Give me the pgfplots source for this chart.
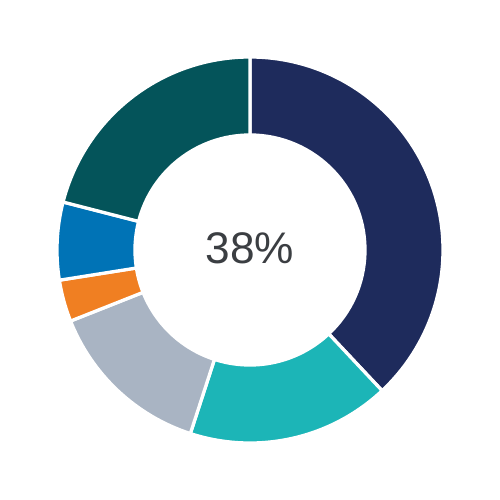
\documentclass[border=0pt]{standalone}
\usepackage{pgfplots}
\usepackage{pgfplotstable}
\usepackage{fontspec}
\setmainfont{Liberation Sans}
\usetikzlibrary{calc}
\pgfplotsset{compat=1.18}

\definecolor{cNavy}{HTML}{1E2B5C}
\definecolor{cTeal}{HTML}{1CB5B7}
\definecolor{cGrey}{HTML}{A9B4C3}
\definecolor{cOrange}{HTML}{F07F22}
\definecolor{cBlue}{HTML}{0073B6}
\definecolor{cGreen}{HTML}{04545A}
\definecolor{txt}{HTML}{3B3E42}

% share of each slice, clockwise from 12 o'clock
\pgfplotstableread{
share color
38  cNavy
17  cTeal
14  cGrey
3.5 cOrange
6.5 cBlue
21  cGreen
}\shares

\newcommand\Rout{2.5cm}
\newcommand\Rin{1.49cm}

\begin{document}
\begin{tikzpicture}
\begin{axis}[
    x=2.5cm, y=2.5cm,
    xmin=-1.2953, xmax=1.2953,
    ymin=-1.2953, ymax=1.2953,
    hide axis,
    clip=false,
]
\addplot[draw=none] coordinates {(-1.2953,-1.2953) (1.2953,1.2953)};
\pgfplotsextra{
  \path (axis cs:-1.2953,-1.2953) rectangle (axis cs:1.2953,1.2953);
  \xdef\startang{90}
  \pgfplotstablegetrowsof{\shares}
  \pgfmathtruncatemacro{\last}{\pgfplotsretval-1}
  \foreach \i in {0,...,\last}{
    \pgfplotstablegetelem{\i}{share}\of\shares
    \let\val\pgfplotsretval
    \pgfplotstablegetelem{\i}{color}\of\shares
    \let\slicecol\pgfplotsretval
    \pgfmathsetmacro{\stopang}{\startang-3.6*\val}
    \fill[fill=\slicecol, draw=white, line width=1.2pt]
      (axis cs:0,0) ++(\startang:\Rout) arc[start angle=\startang, end angle=\stopang, radius=\Rout]
      -- ($(axis cs:0,0)+(\stopang:\Rin)$)
      arc[start angle=\stopang, end angle=\startang, radius=\Rin] -- cycle;
    \xdef\startang{\stopang}
  }
  \node[text=txt, font=\fontsize{16.3}{20}\selectfont] at (axis cs:0,0.007) {38\%};
}
\end{axis}
\end{tikzpicture}
\end{document}
